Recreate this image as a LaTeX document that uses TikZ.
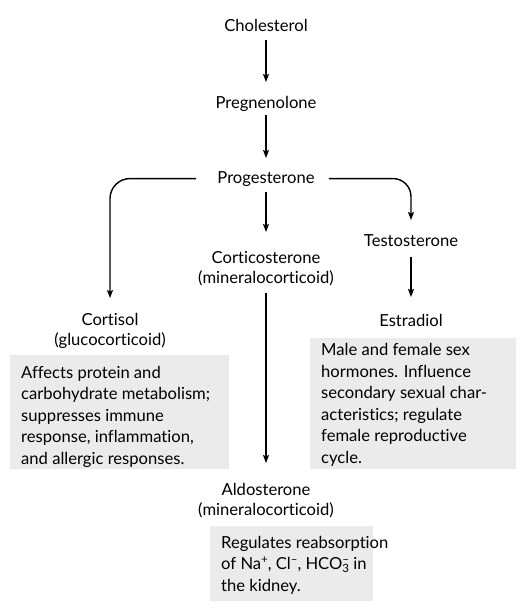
\documentclass[tikz,border=0pt]{standalone}
\usepackage{fontspec}
\setmainfont{Lato}[Ligatures={NoCommon,NoContextual,NoRare}]
\usetikzlibrary{arrows.meta}
\definecolor{boxgray}{HTML}{EBEBEB}
\newcommand{\supr}[1]{\raisebox{6pt}{\fontsize{11.5}{11.5}\selectfont #1}}
\newcommand{\subr}[1]{\raisebox{-3pt}{\fontsize{11.5}{11.5}\selectfont #1}}
\begin{document}
\begin{tikzpicture}[x=1pt,y=-1pt,
  lbl/.style={inner sep=0pt, anchor=base, align=center, font=\fontsize{16.6}{20}\selectfont},
  arr/.style={line width=1.4pt, -{Stealth[length=8pt,width=6pt,inset=1.5pt]}},
  boxfill/.style={fill=boxgray, draw=none, inner sep=0pt, anchor=north west},
  boxtxt/.style={inner sep=0pt, anchor=base west, align=left, font=\fontsize{16.6}{21.5}\selectfont}]
\useasboundingbox (0,0) rectangle (526,616);
% labels (base = baseline of the last line)
\node[lbl] (chol) at (266,31) {Cholesterol};
\node[lbl] (preg) at (266,108) {Pregnenolone};
\node[lbl] (prog) at (266,183) {Progesterone};
\node[lbl] (testo) at (411,246) {Testosterone};
\node[lbl] (cort) at (266,283) {Corticosterone\\(mineralocorticoid)};
\node[lbl] (cortisol) at (110,345) {Cortisol\\(glucocorticoid)};
\node[lbl] (estr) at (411,326) {Estradiol};
\node[lbl] (aldo) at (266,515) {Aldosterone\\(mineralocorticoid)};
% boxes
\node[boxfill, minimum width=219pt, minimum height=114pt] (lbox) at (10,355) {};
\node[boxfill, minimum width=206pt, minimum height=131pt] (rbox) at (310,338) {};
\node[boxfill, minimum width=163pt, minimum height=75pt] (bbox) at (210,526) {};
\node[boxtxt] (ltxt) at (21,464) {Affects protein and\\carbohydrate metabolism;\\suppresses immune\\response, inflammation,\\and allergic responses.};
\node[boxtxt] (rtxt) at (321,463) {Male and female sex\\hormones. Influence\\secondary sexual char-\\acteristics; regulate\\female reproductive\\cycle.};
\node[boxtxt] (btxt) at (221,591) {Regulates reabsorption\\of Na\supr{+}, Cl\supr{–}, HCO\rlap{\supr{–}}\subr{3} in\\the kidney.};
% arrows
\draw[arr] ([yshift=-9pt]chol.base) -- ([yshift=26pt]preg.base);
\draw[arr] ([yshift=-7pt]preg.base) -- ([yshift=25pt]prog.base);
\draw[arr] ([yshift=-9pt]prog.base) -- ([yshift=51pt]cort.base);
\draw[arr, rounded corners=20pt] ([xshift=-21pt]prog.west) -| ([yshift=47pt]cortisol.base);
\draw[arr, rounded corners=18pt] ([xshift=14pt]prog.east) -| ([yshift=26pt]testo.base);
\draw[arr] ([yshift=-11pt]testo.base) -- ([yshift=29pt]estr.base);
\draw[arr] ([yshift=-10pt]cort.base) -- ([yshift=52pt]aldo.base);
\end{tikzpicture}
\end{document}
